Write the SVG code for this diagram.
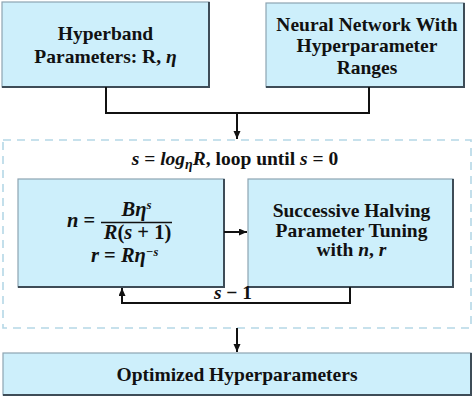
<svg xmlns="http://www.w3.org/2000/svg" width="474" height="412" viewBox="0 0 474 412">
<defs>
<marker id="ah" markerUnits="userSpaceOnUse" markerWidth="9" markerHeight="8" refX="8" refY="3.5" orient="auto">
<path d="M0,0 L8,3.5 L0,7 z" fill="#111"/>
</marker>
</defs>
<style>
.box{fill:#cdeffb;stroke:#8da4b2;stroke-width:1.2}
.edge{fill:none;stroke:#3e4c57;stroke-width:2}
.t{font-family:"Liberation Serif","DejaVu Serif",serif;font-weight:bold;font-size:19.5px;fill:#111;text-anchor:middle}
.m{font-family:"Liberation Serif","DejaVu Serif",serif;font-weight:bold;font-style:italic;font-size:20.5px;fill:#111}
.i{font-style:italic}
.n{font-style:normal}
.c{fill:none;stroke:#111;stroke-width:2}
.dash{fill:none;stroke:#b5d8e6;stroke-width:1.6;stroke-dasharray:8 6}
</style>
<rect class="dash" x="3" y="140" width="468" height="188"/>
<g id="hyperband">
<rect class="box" x="2" y="2" width="207" height="85"/>
<path class="edge" d="M209,2 V87 H2"/>
<text class="t" x="105.5" y="40">Hyperband</text>
<text class="t" x="105.5" y="63">Parameters: R, <tspan class="i">η</tspan></text>
</g>
<g id="network">
<rect class="box" x="266" y="3" width="198" height="84"/>
<path class="edge" d="M464,3 V87 H266"/>
<text class="t" x="367" y="30.5">Neural Network With</text>
<text class="t" x="367" y="52">Hyperparameter</text>
<text class="t" x="367" y="73.5">Ranges</text>
</g>
<g id="loop-label">
<text class="t" x="235" y="165" font-size="20.5"><tspan class="i">s</tspan> = <tspan class="i">log</tspan><tspan class="i" font-size="14" dy="4">η</tspan><tspan class="i" dy="-4">R</tspan>, loop until <tspan class="i">s</tspan> = 0</text>
</g>
<g id="formula">
<rect class="box" x="18" y="179" width="206" height="108"/>
<path class="edge" d="M224,179 V287 H18"/>
<text class="m" x="67" y="227">n <tspan class="n">=</tspan></text>
<text class="m" x="136.5" y="216" text-anchor="middle">Bη<tspan font-size="13" dy="-7">s</tspan></text>
<line x1="101" y1="222.5" x2="172" y2="222.5" stroke="#111" stroke-width="1.3"/>
<text class="m" x="137.5" y="239" text-anchor="middle">R<tspan class="n">(</tspan>s <tspan class="n">+ 1)</tspan></text>
<text class="m" x="91" y="262">r <tspan class="n">=</tspan> Rη<tspan font-size="12.5" dy="-6">−s</tspan></text>
</g>
<g id="halving">
<rect class="box" x="248" y="179" width="205" height="108"/>
<path class="edge" d="M453,179 V287 H248"/>
<text class="t" x="351.5" y="217">Successive Halving</text>
<text class="t" x="351.5" y="236.5">Parameter Tuning</text>
<text class="t" x="351.5" y="255.5">with <tspan class="i">n</tspan>, <tspan class="i">r</tspan></text>
</g>
<g id="output">
<rect class="box" x="3" y="353" width="468" height="42"/>
<path class="edge" d="M471,353 V395 H3"/>
<text class="t" x="237" y="381">Optimized Hyperparameters</text>
</g>
<g id="connectors">
<path class="c" d="M106,87 V113 H369 V87"/>
<path class="c" d="M237,113 V139" marker-end="url(#ah)"/>
<path class="c" d="M224,232 H247" marker-end="url(#ah)"/>
<path class="c" d="M350,287 V303 H122 V288" marker-end="url(#ah)"/>
<path class="c" d="M237,328 V352" marker-end="url(#ah)"/>
<text class="t" x="233" y="299" font-size="21"><tspan class="i">s</tspan> − 1</text>
</g>
</svg>
